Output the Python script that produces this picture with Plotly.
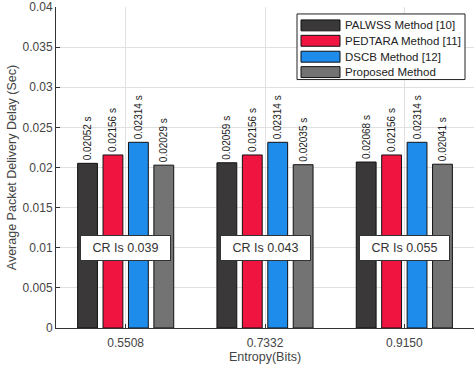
import plotly.graph_objects as go

categories = ["0.5508", "0.7332", "0.9150"]
methods = ["PALWSS Method [10]", "PEDTARA Method [11]", "DSCB Method [12]", "Proposed Method"]
palwss = [0.02052, 0.02059, 0.02068]
pedtara = [0.02156, 0.02156, 0.02156]
dscb = [0.02314, 0.02314, 0.02314]
proposed = [0.02029, 0.02035, 0.02041]
cr_labels = ["CR Is 0.039", "CR Is 0.043", "CR Is 0.055"]
y_ticks = [0, 0.005, 0.01, 0.015, 0.02, 0.025, 0.03, 0.035, 0.04]
y_ticktext = ["0", "0.005", "0.01", "0.015", "0.02", "0.025", "0.03", "0.035", "0.04"]
colors = ["#3a3839", "#f01440", "#1e8ceb", "#737373"]

FONT = "Liberation Sans, Arial, sans-serif"
W, H = 474, 370
ML, MR, MT, MB = 56, 0, 5, 42
PW, PH = W - ML - MR, H - MT - MB


def px_x(p):
    return (p - ML) / PW


def px_y(p):
    return (H - MB - p) / PH


fig = go.Figure()
for name, vals, col in zip(methods, [palwss, pedtara, dscb, proposed], colors):
    fig.add_trace(go.Bar(
        x=list(range(len(categories))), y=vals, name=name,
        marker=dict(color=col, line=dict(color="#111111", width=1)),
        text=[f"{v:.5f} s" for v in vals], textposition="outside",
        textangle=-90, textfont=dict(size=10, color="#222222", family=FONT),
        cliponaxis=False, showlegend=False,
    ))

for i, t in enumerate(cr_labels):
    fig.add_annotation(x=i, y=0.01, xref="x", yref="y", text=t, showarrow=False,
                       font=dict(size=12.5, color="#333333", family=FONT),
                       bgcolor="white", bordercolor="#333333", borderwidth=1,
                       width=87, height=22)

# custom legend (wide swatches like the original)
shapes = [dict(type="rect", xref="paper", yref="paper",
               x0=px_x(297), x1=px_x(465), y0=px_y(78), y1=px_y(12),
               fillcolor="white", line=dict(color="#222222", width=1), layer="above")]
row_centers = [23.5, 39, 55, 70.5]
for name, col, yc in zip(methods, colors, row_centers):
    shapes.append(dict(type="rect", xref="paper", yref="paper",
                       x0=px_x(301), x1=px_x(340), y0=px_y(yc + 5.5), y1=px_y(yc - 5.5),
                       fillcolor=col, line=dict(color="#111111", width=1), layer="above"))
    fig.add_annotation(xref="paper", yref="paper", x=px_x(343), y=px_y(yc),
                       xanchor="left", yanchor="middle", text=name, showarrow=False,
                       font=dict(size=11.5, color="#222222", family=FONT))

fig.update_layout(
    width=W, height=H,
    margin=dict(l=ML, r=MR, t=MT, b=MB),
    paper_bgcolor="white", plot_bgcolor="white",
    barmode="group", bargap=0.27, bargroupgap=0.22,
    font=dict(family=FONT, color="#444444"),
    uniformtext=dict(minsize=10, mode="show"),
    shapes=shapes,
    xaxis=dict(tickvals=list(range(len(categories))), ticktext=categories,
               range=[-0.5, 2.5], showgrid=True, gridcolor="#e0e0e0",
               ticks="inside", ticklen=4, tickcolor="#333333", ticklabelstandoff=4,
               showline=True, linecolor="#333333", linewidth=1,
               tickfont=dict(size=12, color="#444444"),
               title=dict(text="Entropy(Bits)", font=dict(size=12.5, color="#444444"), standoff=1)),
    yaxis=dict(range=[0, 0.04], tickvals=y_ticks, ticktext=y_ticktext, showgrid=True, gridcolor="#e0e0e0",
               ticks="inside", ticklen=4, tickcolor="#333333", ticklabeloverflow="allow",
               showline=True, linecolor="#333333", linewidth=1, zeroline=False,
               tickfont=dict(size=12, color="#444444"),
               title=dict(text="Average Packet Delivery Delay (Sec)", font=dict(size=12.5, color="#444444"), standoff=3)),
)
fig.write_html("out.html", config={"displayModeBar": False},
               post_script="document.body.style.margin='0px';document.body.style.overflow='hidden';")
